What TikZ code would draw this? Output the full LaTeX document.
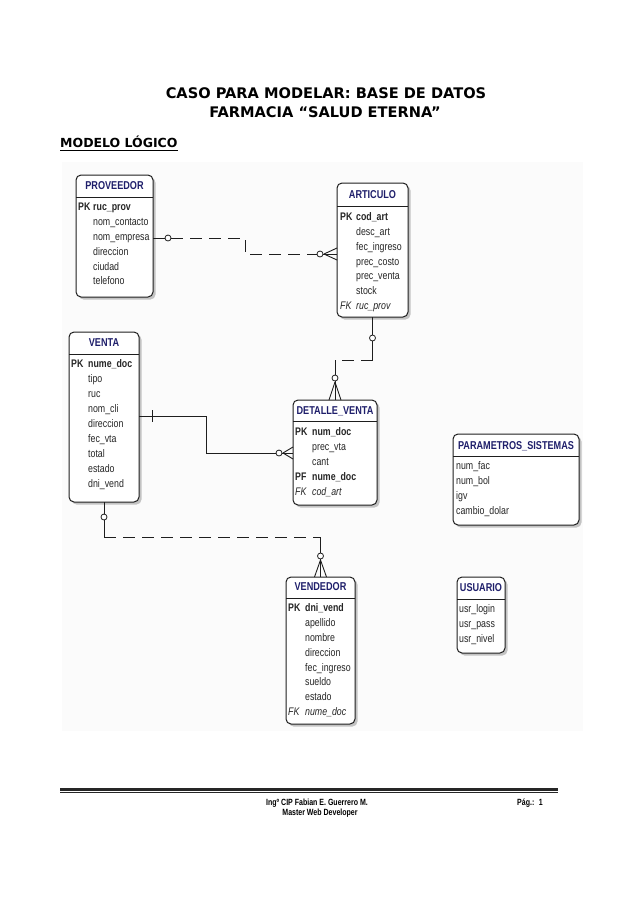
\documentclass[tikz,border=0pt]{standalone}
\usepackage{fontspec}
\setmainfont{Liberation Sans}
\newfontfamily\erfont[FakeStretch=0.8]{Liberation Sans}
\newfontfamily\footfont[FakeStretch=0.78]{Liberation Sans}
\newfontfamily\titlefont{DejaVu Sans}
\usetikzlibrary{shadows}
\definecolor{hdr}{HTML}{1F1F6B}
\definecolor{edge}{HTML}{1E1E1E}
\definecolor{attrc}{HTML}{262626}
\tikzset{
  entity/.style={draw=edge, line width=1pt, rounded corners=5pt, fill=white,
    inner sep=0pt, outer sep=0pt,
    drop shadow={shadow xshift=2.5pt, shadow yshift=-2.5pt, fill=black!50, opacity=0.45}},
  sepline/.style={draw=edge, line width=1pt},
  hdrtext/.style={font=\erfont\bfseries\fontsize{11.4}{12}\selectfont, text=hdr, inner sep=0pt,
    text height=8.4pt, text depth=2.4pt},
  attr/.style={font=\erfont\fontsize{11}{12}\selectfont, text=attrc, anchor=west, inner sep=0pt,
    text height=8.2pt, text depth=2.4pt},
  rel/.style={draw=edge, line width=0.9pt},
  reldash/.style={rel, dash pattern=on 12pt off 7pt},
  circ/.style={circle, draw=edge, line width=0.8pt, fill=white, minimum size=6pt, inner sep=0pt},
  titletext/.style={font=\titlefont\bfseries\fontsize{14.6}{17}\selectfont, inner sep=0pt},
  foottext/.style={font=\footfont\bfseries\fontsize{9}{10}\selectfont, inner sep=0pt}
}
\begin{document}
\begin{tikzpicture}[x=1pt,y=-1pt]
\useasboundingbox (0,0) rectangle (638,903);
\fill[white] (0,0) rectangle (638,903);
\fill[black!1.5] (62,162) rectangle (583,731);

% titles
\node[titletext] (t1) at (326,93) {CASO PARA MODELAR: BASE DE DATOS};
\node[titletext] (t2) at (325,112) {FARMACIA “SALUD ETERNA”};
\node[titletext, anchor=west, font=\titlefont\bfseries\fontsize{12.5}{14}\selectfont] (t3) at (60,142) {MODELO LÓGICO};
\draw[line width=1.1pt] (t3.south west) ++(0,2) coordinate (u1) -- (u1 -| t3.east);

% PROVEEDOR
\node[entity, minimum width=77pt, minimum height=122pt] (prov) at (114.5,236) {};
\draw[sepline] (prov.west |- 0,197) -- (prov.east |- 0,197);
\node[hdrtext] (prov-t) at (prov.north |- 0,186) {PROVEEDOR};
\node[attr] (prov-k) at (78,208) {\bfseries PK};
\foreach \t [count=\i from 0] in {{\bfseries ruc\_prov}, nom\_contacto, nom\_empresa, direccion, ciudad, telefono}
  \node[attr] (prov-a\i) at (93,{208+14.8*\i}) {\t};

% ARTICULO
\node[entity, minimum width=71pt, minimum height=134pt] (art) at (372.5,250) {};
\draw[sepline] (art.west |- 0,206) -- (art.east |- 0,206);
\node[hdrtext] (art-t) at (art.north |- 0,195) {ARTICULO};
\node[attr] (art-k) at (340,218) {\bfseries PK};
\node[attr] (art-f) at (340,306.2) {\itshape FK};
\foreach \t [count=\i from 0] in {{\bfseries cod\_art}, desc\_art, fec\_ingreso, prec\_costo, prec\_venta, stock, {\itshape ruc\_prov}}
  \node[attr] (art-a\i) at (356,{218+14.7*\i}) {\t};

% VENTA
\node[entity, minimum width=70pt, minimum height=170pt] (venta) at (104,417) {};
\draw[sepline] (venta.west |- 0,354) -- (venta.east |- 0,354);
\node[hdrtext] (venta-t) at (venta.north |- 0,343) {VENTA};
\node[attr] (venta-k) at (71,365) {\bfseries PK};
\foreach \t [count=\i from 0] in {{\bfseries nume\_doc}, tipo, ruc, nom\_cli, direccion, fec\_vta, total, estado, dni\_vend}
  \node[attr] (venta-a\i) at (88,{365+15*\i}) {\t};

% DETALLE_VENTA
\node[entity, minimum width=84pt, minimum height=105pt] (det) at (335,452.5) {};
\draw[sepline] (det.west |- 0,421) -- (det.east |- 0,421);
\node[hdrtext] (det-t) at (det.north |- 0,411) {DETALLE\_VENTA};
\node[attr] (det-k) at (295,433) {\bfseries PK};
\node[attr] (det-p) at (295,477.4) {\bfseries PF};
\node[attr] (det-f) at (295,492.2) {\itshape FK};
\foreach \t [count=\i from 0] in {{\bfseries num\_doc}, prec\_vta, cant, {\bfseries nume\_doc}, {\itshape cod\_art}}
  \node[attr] (det-a\i) at (312,{433+14.8*\i}) {\t};

% PARAMETROS_SISTEMAS
\node[entity, minimum width=126pt, minimum height=91pt] (param) at (516,479.5) {};
\draw[sepline] (param.west |- 0,456) -- (param.east |- 0,456);
\node[hdrtext] (param-t) at (param.north |- 0,446) {PARAMETROS\_SISTEMAS};
\foreach \t [count=\i from 0] in {num\_fac, num\_bol, igv, cambio\_dolar}
  \node[attr] (param-a\i) at (456,{467+15*\i}) {\t};

% VENDEDOR
\node[entity, minimum width=69pt, minimum height=147pt] (vend) at (320.5,650.5) {};
\draw[sepline] (vend.west |- 0,598) -- (vend.east |- 0,598);
\node[hdrtext] (vend-t) at (vend.north |- 0,587) {VENDEDOR};
\node[attr] (vend-k) at (288,609) {\bfseries PK};
\node[attr] (vend-f) at (288,712.6) {\itshape FK};
\foreach \t [count=\i from 0] in {{\bfseries dni\_vend}, apellido, nombre, direccion, fec\_ingreso, sueldo, estado, {\itshape nume\_doc}}
  \node[attr] (vend-a\i) at (305,{609+14.8*\i}) {\t};

% USUARIO
\node[entity, minimum width=48pt, minimum height=76pt] (usu) at (481,615) {};
\draw[sepline] (usu.west |- 0,599) -- (usu.east |- 0,599);
\node[hdrtext] (usu-t) at (usu.north |- 0,588) {USUARIO};
\foreach \t [count=\i from 0] in {usr\_login, usr\_pass, usr\_nivel}
  \node[attr] (usu-a\i) at (459,{610+14.6*\i}) {\t};

% PROVEEDOR -> ARTICULO
\node[circ] (o1) at (168,238) {};
\node[circ] (o2) at (320,254) {};
\coordinate (k1) at (245,238);
\coordinate (k2) at (245,254);
\coordinate (f1) at (324,254);
\draw[rel] (prov.east |- o1) -- (o1);
\draw[reldash] (o1) -- (k1) -- (k2) -- (o2);
\draw[rel] (o2) -- (art.west |- o2);
\draw[rel] (f1) -- (art.west |- 0,248);
\draw[rel] (f1) -- (art.west |- 0,260);

% ARTICULO -> DETALLE_VENTA
\node[circ] (o3) at (art.south |- 0,338) {};
\coordinate (k3) at (art.south |- 0,360);
\coordinate (k4) at (det.north |- 0,360);
\node[circ] (o4) at (det.north |- 0,378) {};
\coordinate (f2) at (det.north |- 0,382);
\draw[rel] (art.south) -- (o3);
\draw[rel] (o3) -- (k3);
\draw[reldash] (k3) -- (k4);
\draw[rel] (k4) -- (o4);
\draw[rel] (o4) -- (det.north);
\draw[rel] (f2) -- ([xshift=-6pt]det.north);
\draw[rel] (f2) -- ([xshift=6pt]det.north);

% VENTA -> DETALLE_VENTA
\coordinate (k5) at (206,416);
\coordinate (k6) at (206,453);
\node[circ] (o5) at (279,453) {};
\coordinate (f3) at (283,453);
\coordinate (b1) at (152,410);
\coordinate (b2) at (152,422);
\draw[rel] (venta.east |- k5) -- (k5) -- (k6) -- (o5);
\draw[rel] (b1) -- (b2);
\draw[rel] (o5) -- (det.west |- o5);
\draw[rel] (f3) -- (det.west |- 0,447);
\draw[rel] (f3) -- (det.west |- 0,459);

% VENTA -> VENDEDOR
\node[circ] (o6) at (venta.south |- 0,517) {};
\coordinate (k7) at (venta.south |- 0,537);
\coordinate (k8) at (vend.north |- 0,537);
\node[circ] (o7) at (vend.north |- 0,556) {};
\coordinate (f4) at (vend.north |- 0,560);
\draw[rel] (venta.south) -- (o6);
\draw[rel] (o6) -- (k7);
\draw[reldash] (k7) -- (k8);
\draw[rel] (k8) -- (o7);
\draw[rel] (o7) -- (vend.north);
\draw[rel] (f4) -- ([xshift=-6pt]vend.north);
\draw[rel] (f4) -- ([xshift=6pt]vend.north);

% footer
\coordinate (L1) at (60,789.3);
\coordinate (L2) at (558,789.3);
\coordinate (L3) at (60,792.8);
\coordinate (L4) at (558,792.8);
\draw[line width=2.6pt, black!85] (L1) -- (L2);
\draw[line width=0.9pt, black!85] (L3) -- (L4);
\node[foottext] (ft1) at (317,803) {Ingº CIP Fabian E. Guerrero M.};
\node[foottext] (ft2) at (320,813) {Master Web Developer};
\node[foottext, anchor=east] (ft3) at (543,803) {Pág.: \ 1};
\end{tikzpicture}
\end{document}
